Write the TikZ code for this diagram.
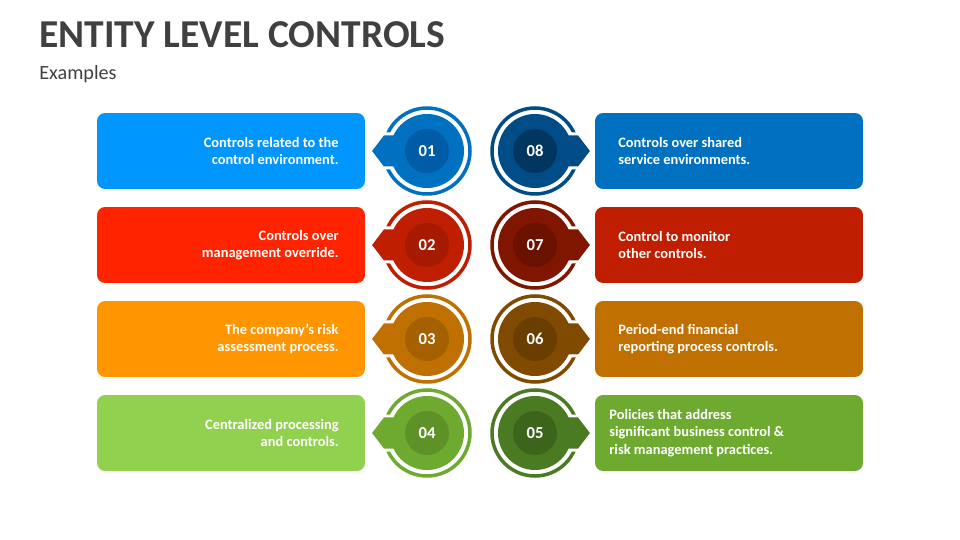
\documentclass[tikz,border=0pt]{standalone}
\usepackage{fontspec}
\setmainfont{Carlito}
\usetikzlibrary{positioning}
\definecolor{blueA}{HTML}{0096FF}\definecolor{blueB}{HTML}{0070C0}\definecolor{blueC}{HTML}{005CA6}
\definecolor{blueD}{HTML}{004C87}\definecolor{blueE}{HTML}{00365F}
\definecolor{redA}{HTML}{FF2300}\definecolor{redB}{HTML}{C01E00}\definecolor{redC}{HTML}{A51A00}
\definecolor{redD}{HTML}{801500}\definecolor{redE}{HTML}{6A1100}
\definecolor{orgA}{HTML}{FF9600}\definecolor{orgB}{HTML}{C07000}\definecolor{orgC}{HTML}{A56000}
\definecolor{orgD}{HTML}{804B00}\definecolor{orgE}{HTML}{6A3E00}
\definecolor{grnA}{HTML}{92D050}\definecolor{grnB}{HTML}{6EAA30}\definecolor{grnC}{HTML}{5E9228}
\definecolor{grnD}{HTML}{4A7A22}\definecolor{grnE}{HTML}{3C641B}
\tikzset{
  card/.style={rectangle, rounded corners=0.16cm, minimum width=5.36cm, minimum height=1.52cm, inner sep=0pt},
  cardtext/.style={text=white, font=\fontsize{8.2}{10}\selectfont\bfseries, inner sep=0pt},
  numtext/.style={circle, minimum size=0.88cm, inner sep=0pt, text=white, font=\fontsize{9.5}{11}\selectfont\bfseries}
}
\begin{document}
\begin{tikzpicture}[x=0.02cm, y=-0.02cm]
    \useasboundingbox (0,0) rectangle (960,540);
    % Title
    \node[anchor=west, font=\fontsize{22.5}{26}\selectfont\bfseries, text=black!75, inner sep=0pt] (title) at (39,35) {ENTITY LEVEL CONTROLS};
    \node[anchor=west, font=\fontsize{11.5}{14}\selectfont, text=black!75, inner sep=0pt] (subtitle) at (39,74) {Examples};

    % Rows
    \foreach \y/\cl/\cb/\cc/\cd/\ce/\nl/\nr/\tl in {
        151/blueA/blueB/blueC/blueD/blueE/01/08/{Controls related to the\\control environment.},
        245/redA/redB/redC/redD/redE/02/07/{Controls over\\management override.},
        339/orgA/orgB/orgC/orgD/orgE/03/06/{The company's risk\\assessment process.},
        433/grnA/grnB/grnC/grnD/grnE/04/05/{Centralized processing\\and controls.}} {
        % cards
        \node[card, fill=\cl] (L\nl) at (231,\y) {};
        \node[card, fill=\cb] (R\nr) at (729,\y) {};
        \node[cardtext, anchor=east, align=right] (LT\nl) at (339,\y) {\tl};
        % left badge
        \draw[\cb, line width=0.07cm] (427,\y) circle (43);
        \fill[white] (427,\y) circle (40);
        \filldraw[fill=\cb, draw=white, line width=0.06cm] (407,\y-17) -- (383,\y-17) -- (370,\y) -- (383,\y+17) -- (407,\y+17) -- cycle;
        \fill[\cb] (427,\y) circle (37);
        \node[numtext, fill=\cc] (N\nl) at (427,\y) {\nl};
        % right badge
        \draw[\cd, line width=0.07cm] (535,\y) circle (43);
        \fill[white] (535,\y) circle (40);
        \filldraw[fill=\cd, draw=white, line width=0.06cm] (555,\y-17) -- (579,\y-17) -- (592,\y) -- (579,\y+17) -- (555,\y+17) -- cycle;
        \fill[\cd] (535,\y) circle (37);
        \node[numtext, fill=\ce] (N\nr) at (535,\y) {\nr};
    }
    \node[cardtext, anchor=west, align=left] (RT08) at (618,151) {Controls over shared\\service environments.};
    \node[cardtext, anchor=west, align=left] (RT07) at (618,245) {Control to monitor\\other controls.};
    \node[cardtext, anchor=west, align=left] (RT06) at (618,339) {Period-end financial\\reporting process controls.};
    \node[cardtext, anchor=west, align=left] (RT05) at (609,433) {Policies that address\\significant business control \&\\risk management practices.};
\end{tikzpicture}
\end{document}
